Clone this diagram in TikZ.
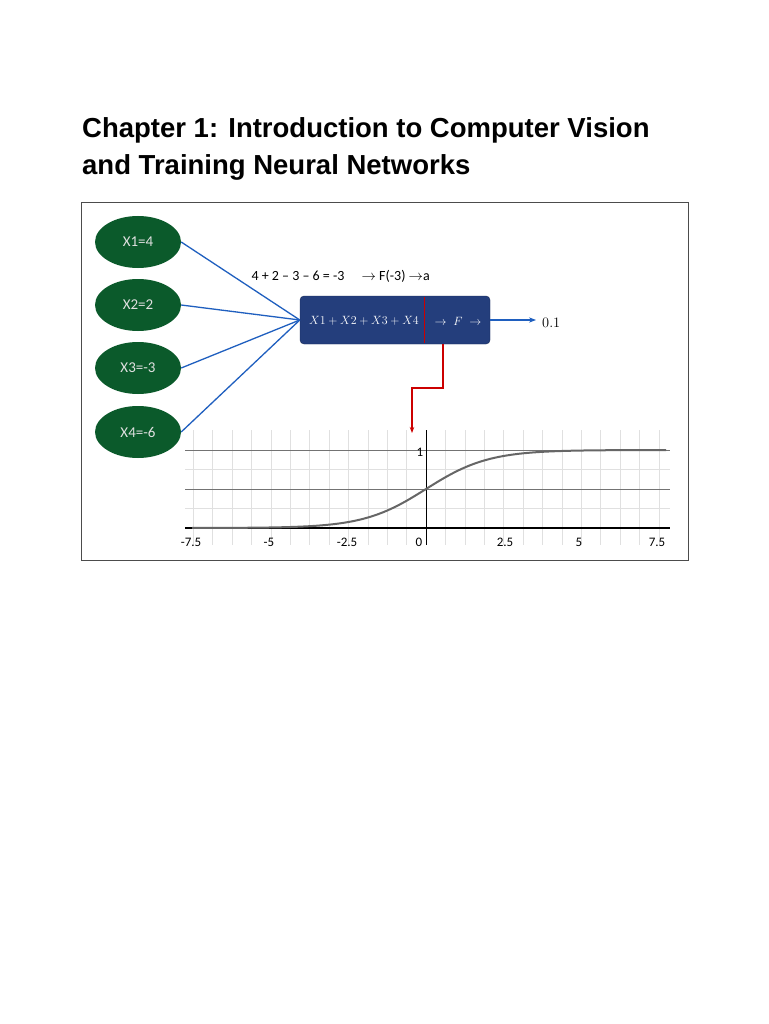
\documentclass[tikz,border=0pt]{standalone}
\usepackage{fontspec}
\setmainfont{Liberation Sans}
\newfontfamily\bodyfont{Carlito}
\usetikzlibrary{shapes.geometric,arrows.meta}

\definecolor{nodegreen}{HTML}{0B5A2B}
\definecolor{boxblue}{HTML}{243E7C}
\definecolor{linkblue}{HTML}{1F5FBF}
\tikzset{
  inputnode/.style={ellipse, fill=nodegreen, minimum width=86pt, minimum height=52pt,
    inner sep=0pt, text=black!12, font=\bodyfont\fontsize{15}{17}\selectfont},
  link/.style={draw=linkblue, line width=1.3pt},
  gridline/.style={draw=black!12, line width=0.6pt},
  tick/.style={font=\bodyfont\fontsize{13}{15}\selectfont, inner sep=1pt}
}

\begin{document}
\begin{tikzpicture}[x=1pt, y=-1pt]
  \useasboundingbox (0,0) rectangle (768,1024);
  \fill[white] (0,0) rectangle (768,1024);

  % title
  \node[anchor=base west, inner sep=0pt, font=\bfseries\fontsize{27.5}{32}\selectfont] (title1) at (82,138)
    {Chapter 1: Introduction to Computer Vision};
  \node[anchor=base west, inner sep=0pt, font=\bfseries\fontsize{27.5}{32}\selectfont] (title2) at (82,175)
    {and Training Neural Networks};

  % frame
  \draw[black!70, line width=1pt] (81,203) rectangle (688,560);

  % plot grid
  \foreach \i in {-12,...,12}
    \draw[gridline] ({426+\i*19.4},430) -- ({426+\i*19.4},545);
  \foreach \j in {1,2,3}
    \draw[gridline] (185,{528-\j*19.5}) -- (670,{528-\j*19.5});
  \draw[black!55, line width=1pt] (185,450) -- (670,450);
  \draw[black!55, line width=0.8pt] (185,489) -- (670,489);
  \draw[black, line width=1.6pt] (185,528) -- (670,528);
  \draw[black, line width=1pt] (426,430) -- (426,545);
  \draw[black!60, line width=2pt, domain=-7.5:7.7, samples=120, smooth]
    plot ({426+\x*31.2}, {528-78/(1+exp(-\x))});
  \node[tick] (one) at (420,452) {1};
  \foreach \v/\px in {-7.5/191,-5/269,-2.5/347,0/419,2.5/505,5/579,7.5/657}
    \node[tick] (t\px) at (\px,542) {\v};

  % inputs
  \node[inputnode] (x1) at (138,242) {X1=4};
  \node[inputnode] (x2) at (138,305) {X2=2};
  \node[inputnode] (x3) at (138,368) {X3=-3};
  \node[inputnode] (x4) at (138,432) {X4=-6};

  % neuron box
  \node[draw=boxblue!70!black, fill=boxblue, rounded corners=4pt, minimum width=190pt,
    minimum height=48pt, inner sep=0pt] (box) at (395,320) {};
  \draw[red!80!black, line width=1pt] (424,297) -- (424,343);
  \node[text=white, font=\fontsize{12.5}{16}\selectfont] (sum) at (364,321)
    {$X1+X2+X3+X4$};
  \node[text=white, font=\fontsize{12}{14}\selectfont] (func) at (458,321) {$\rightarrow\; F\; \rightarrow$};

  \foreach \n in {x1,x2,x3,x4}
    \draw[link] (\n.east) -- (box.west);

  \node[font=\bodyfont\fontsize{14}{16}\selectfont, anchor=west] (calc) at (248,276)
    {4 + 2 – 3 – 6 = -3 \quad $\rightarrow$ F(-3) $\rightarrow$a};

  \node[font=\fontsize{14}{16}\selectfont, anchor=west, inner sep=1pt] (out) at (541,323) {$0.1$};
  \coordinate (outtip) at (536,320);
  \draw[link, -{Stealth[length=7pt]}] (box.east) -- (outtip);

  % activation link
  \coordinate (act) at (412,433);
  \draw[red!80!black, line width=1.4pt, -{Stealth[length=6pt]}] (443,344) -- (443,388) -- (412,388) -- (act);
\end{tikzpicture}
\end{document}
